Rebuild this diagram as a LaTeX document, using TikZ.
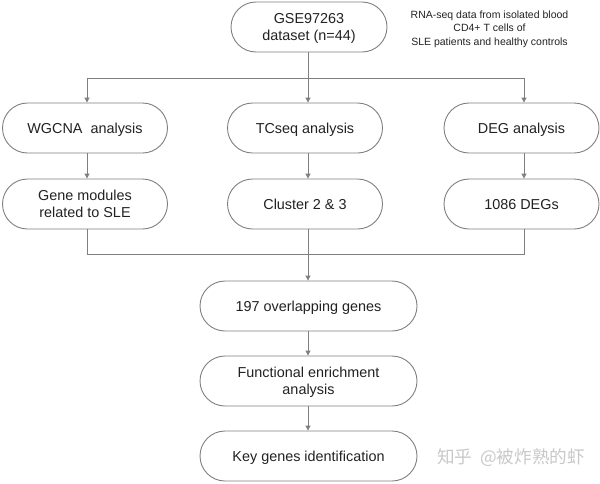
\documentclass[tikz,border=0pt]{standalone}
\usepackage{fontspec}
\setmainfont{Liberation Sans}
\newfontfamily\cjkwm{Noto Sans CJK SC}
\usetikzlibrary{arrows.meta}
\definecolor{linegray}{HTML}{7F7F7F}
\definecolor{inkgray}{HTML}{222222}
\definecolor{wmgray}{HTML}{C8C8C8}
% set text slightly below the optical centre of the pill, as in the reference
\newcommand{\pilltext}[1]{\raisebox{-1.8pt}[\height][\depth]{\begin{tabular}{@{}c@{}}#1\end{tabular}}}
\tikzset{
  pill/.style={draw=linegray,line width=0.9pt,rounded corners=25pt,fill=white,text=inkgray,
    minimum height=50pt,align=center,inner sep=0pt,font=\fontsize{14.4}{17}\selectfont},
  conn/.style={draw=linegray,line width=1pt},
  arr/.style={conn,-{Triangle[length=5pt,width=5pt]}},
}
\begin{document}
\begin{tikzpicture}[x=1pt,y=-1pt]
\useasboundingbox (0,0) rectangle (600,483);
\node[pill,minimum width=156pt] (gse) at (309,27) {\pilltext{GSE97263\\dataset (n=44)}};
\node[align=center,text=inkgray,font=\fontsize{10.5}{13.3}\selectfont] (note) at (489.5,29) {RNA-seq data from isolated blood\\CD4+ T cells of\\SLE patients and healthy controls};
\node[pill,minimum width=165pt] (wg) at (85,128) {\pilltext{WGCNA\ \ analysis}};
\node[pill,minimum width=155pt] (tc) at (305,128) {\pilltext{TCseq analysis}};
\node[pill,minimum width=155pt] (de) at (521.5,128) {\pilltext{DEG analysis}};
\node[pill,minimum width=165pt] (mod) at (85,204) {\pilltext{Gene modules\\related to SLE}};
\node[pill,minimum width=155pt] (clu) at (305,204) {\pilltext{Cluster 2 \& 3}};
\node[pill,minimum width=155pt] (deg) at (521.5,204) {\pilltext{1086 DEGs}};
\node[pill,minimum width=217pt] (ov) at (308.5,306) {\pilltext{197 overlapping genes}};
\node[pill,minimum width=217pt] (fe) at (308.5,381) {\pilltext{Functional enrichment\\analysis}};
\node[pill,minimum width=217pt] (key) at (308.5,456) {\pilltext{Key genes identification}};
\node[text=wmgray,font=\cjkwm\fontsize{17.6}{20}\selectfont] (wm) at (511,458) {知乎\ \ @被炸熟的虾};
\coordinate (top) at (308,78);
\coordinate (topl) at (87,78);
\coordinate (topr) at (524,78);
\coordinate (bot) at (308,254);
\draw[conn] (gse.south -| top) -- (top);
\draw[conn] (topl) -- (topr);
\draw[arr] (topl) -- (topl |- wg.north);
\draw[arr] (top) -- (top |- tc.north);
\draw[arr] (topr) -- (topr |- de.north);
\draw[arr] (wg.south -| topl) -- (topl |- mod.north);
\draw[arr] (tc.south -| top) -- (top |- clu.north);
\draw[arr] (de.south -| topr) -- (topr |- deg.north);
\draw[conn] (mod.south -| topl) |- (bot);
\draw[conn] (deg.south -| topr) |- (bot);
\draw[conn] (clu.south -| top) -- (bot);
\draw[arr] (bot) -- (bot |- ov.north);
\draw[arr] (ov.south -| bot) -- (bot |- fe.north);
\draw[arr] (fe.south -| bot) -- (bot |- key.north);
\end{tikzpicture}
\end{document}
